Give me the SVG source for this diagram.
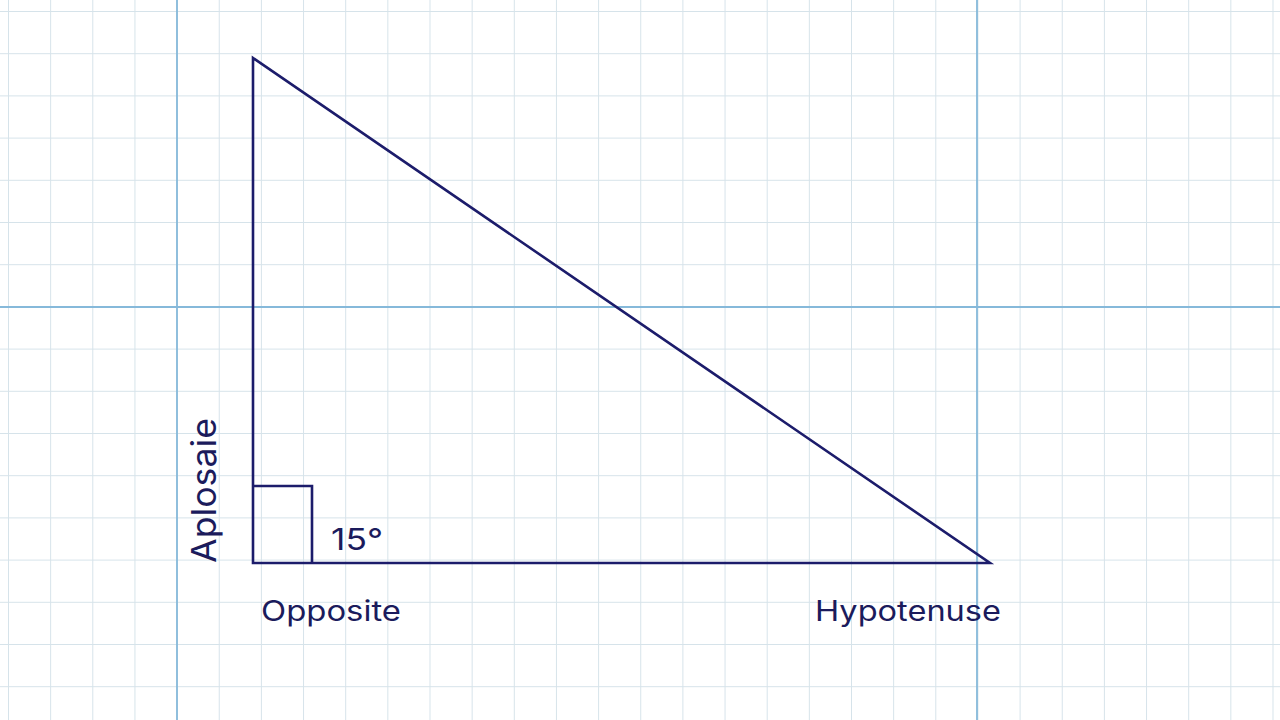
<svg xmlns="http://www.w3.org/2000/svg" width="1280" height="720" viewBox="0 0 1280 720">
<defs>
<pattern id="minor" x="8" y="11" width="42.15" height="42.2" patternUnits="userSpaceOnUse">
<path d="M0 0V42.2M0 0H42.15" fill="none" stroke="#d6e3ea" stroke-width="2"/>
</pattern>
</defs>
<style>
.major{stroke:#86b9da;stroke-width:1.8}
.tri{fill:none;stroke:#1c1c6b;stroke-width:2.6;stroke-linejoin:miter}
.lbl{font-family:Inter,"Noto Sans","Liberation Sans",sans-serif;font-weight:400;fill:#1b1b5c}
</style>
<rect width="1280" height="720" fill="#ffffff"/>
<rect width="1280" height="720" fill="url(#minor)"/>
<g id="axes">
<line class="major" x1="177" y1="0" x2="177" y2="720"/>
<line class="major" x1="977" y1="0" x2="977" y2="720"/>
<line class="major" x1="0" y1="307" x2="1280" y2="307"/>
</g>
<g id="triangle">
<path class="tri" d="M253 58 L253 563 L990 563 Z"/>
<path class="tri" d="M253 486 H312 V563"/>
</g>
<g id="labels">
<text class="lbl" x="331" y="550" font-size="30" textLength="52" lengthAdjust="spacingAndGlyphs">15°</text>
<text class="lbl" x="261" y="621" font-size="28" textLength="140" lengthAdjust="spacingAndGlyphs">Opposite</text>
<text class="lbl" x="815" y="621" font-size="28" textLength="186" lengthAdjust="spacingAndGlyphs">Hypotenuse</text>
<text class="lbl" transform="translate(216 563) rotate(-90)" x="0" y="0" font-size="34" textLength="145" lengthAdjust="spacingAndGlyphs">Aplosaie</text>
</g>
</svg>
